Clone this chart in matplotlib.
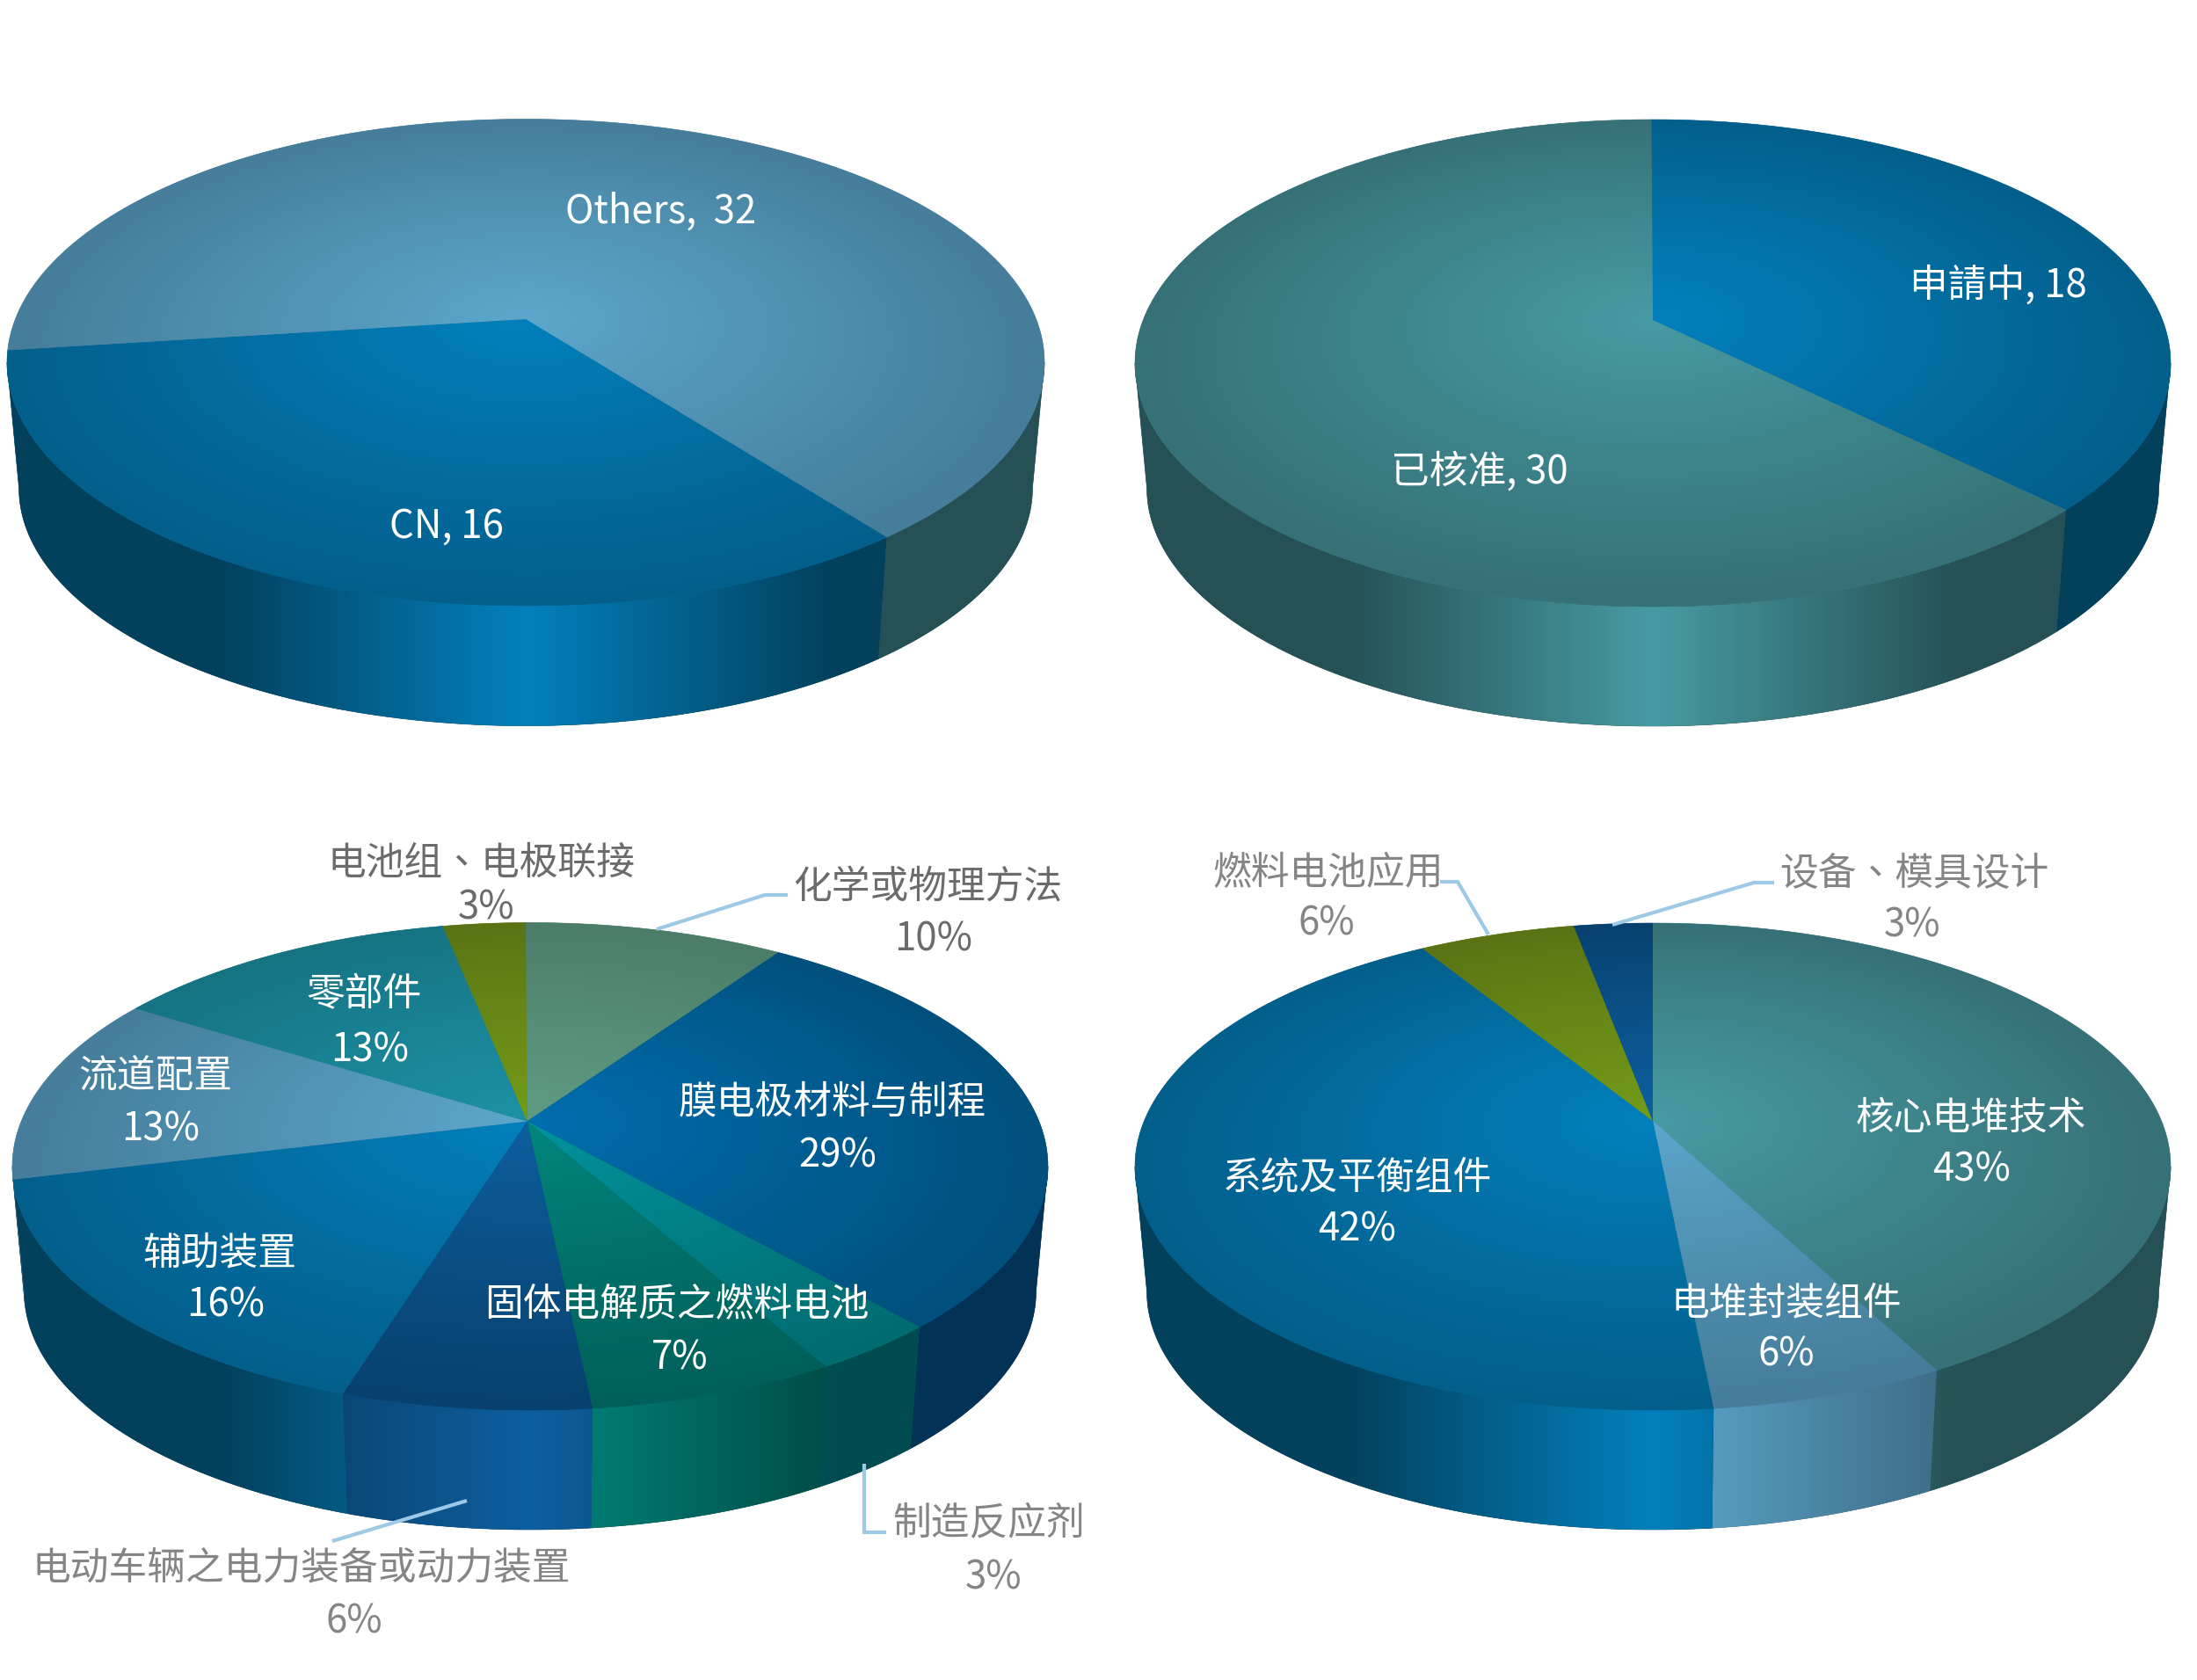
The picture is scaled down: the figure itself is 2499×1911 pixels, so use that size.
import numpy as np
import matplotlib
matplotlib.use('Agg')
import matplotlib.pyplot as plt
from matplotlib.patches import Polygon
from matplotlib.colors import to_rgb

plt.rcParams['font.family'] = ['Noto Sans CJK SC', 'DejaVu Sans']

# ---- data
country_names = ['CN', 'Others']
country_values = [16, 32]
status_names = ['申請中', '已核准']
status_values = [18, 30]
tech_names = ['化学或物理方法', '膜电极材料与制程', '制造反应剂', '固体电解质之燃料电池',
              '电动车辆之电力装备或动力装置', '辅助装置', '流道配置', '零部件', '电池组、电极联接']
tech_values = [9.67, 29.05, 3.35, 6.5, 6.5, 16.3, 12.6, 12.95, 3.08]
tech_labels = ['10%', '29%', '3%', '7%', '6%', '16%', '13%', '13%', '3%']
stack_names = ['核心电堆技术', '电堆封装组件', '系统及平衡组件', '燃料电池应用', '设备、模具设计']
stack_values = [42.3, 6.15, 42.75, 5.85, 2.95]
stack_labels = ['43%', '6%', '42%', '6%', '3%']

# colours: centre of top, rim of top, dark end of side
BLUE = ('#0280BD', '#035F8C', '#02405C')
LIGHT = ('#5CA7CC', '#457D9A', '#3C6982')
TEAL = ('#479BA3', '#367177', '#255055')
GREEN = ('#739B19', '#5A7314', '#3C500F')
NAVY = ('#0D5FA0', '#08416E', '#08375A')
country_colors = [BLUE, ('#5CA7CC', '#457D9A', '#255055')]
status_colors = [BLUE, TEAL]
tech_colors = [('#5F9B82', '#4B7D69', '#375A4B'), ('#006EAF', '#00507D', '#023255'),
               ('#00949E', '#006C70', '#004B50'), ('#00877D', '#005F5A', '#004B46'),
               NAVY, BLUE, LIGHT, ('#1C91A5', '#167382', '#0F505A'), GREEN]
stack_colors = [TEAL, LIGHT, BLUE, GREEN, NAVY]


def rgb(c):
    return np.array(to_rgb(c))


def draw_pie(ax, cx, cy, top, bottom, under, rx, values, colors, start=0, apex_dx=0):
    # perspective disc: far half squeezed, apex sits above the ellipse centre
    up = cy - top
    down = bottom - cy
    k = (down - up) / (down + up)
    b = up * (1 + k)
    a = rx * np.sqrt(1 - k ** 2)
    s = 0.977
    cy2 = under - down * s

    def project(ang):
        x, y = np.sin(ang), np.cos(ang)
        w = 1 + k * y
        return a * x / w, b * y / w

    x0, x1 = int(cx - rx - 2), int(cx + rx + 2)
    y0, y1 = int(top - 2), int(under + 2)
    gx, gy = np.meshgrid(np.arange(x0, x1) + 0.5, np.arange(y0, y1) + 0.5)
    # plane radius for the top gradient
    xp, yp = (gx - cx - apex_dx) / a, (cy - gy) / b
    yy = yp / (1 - k * yp)
    rr = np.hypot(xp * (1 + k * yy), yy)
    tt = np.clip(rr, 0, 1)[..., None]
    # side gradient only depends on x
    ts = np.clip(np.abs(gx - cx) / (0.6 * rx), 0, 1)[..., None]

    edges = np.radians(start + np.cumsum([0] + list(values)) * 360 / sum(values))
    # only the front of the wall shows, between the widest points of the disc
    right = np.arccos(-k)
    left = 2 * np.pi - right

    for i, col in enumerate(colors):
        c_in, c_out, c_dark = [rgb(c) for c in col]
        for turn in (-2 * np.pi, 0, 2 * np.pi):
            a0 = max(edges[i], right + turn)
            a1 = min(edges[i + 1], left + turn)
            if a1 <= a0:
                continue
            ang = np.linspace(a0, a1, 240)
            X, Y = project(ang)
            rim = np.column_stack([cx + X, cy - Y])
            low = np.column_stack([cx + s * X, cy2 - s * Y])[::-1]
            pts = np.vstack([rim, low])
            ax.add_patch(Polygon(pts, closed=True, fc=c_dark, ec=c_dark, lw=0.4, zorder=1))
            im = ax.imshow(c_in + (c_dark - c_in) * ts, extent=(x0, x1, y1, y0), origin='upper',
                           aspect='auto', interpolation='bilinear', zorder=2)
            im.set_clip_path(Polygon(pts, closed=True, transform=ax.transData))

    for i, col in enumerate(colors):
        ang = np.linspace(edges[i], edges[i + 1], 240)
        X, Y = project(ang)
        c_in, c_out, c_dark = [rgb(c) for c in col]

        # top
        pts = np.vstack([[cx + apex_dx, cy], np.column_stack([cx + X, cy - Y])])
        ax.add_patch(Polygon(pts, closed=True, fc=(c_in + c_out) / 2, ec=c_out, lw=0.4, zorder=3))
        im = ax.imshow(c_in + (c_out - c_in) * tt, extent=(x0, x1, y1, y0), origin='upper',
                       aspect='auto', interpolation='bilinear', zorder=4)
        im.set_clip_path(Polygon(pts, closed=True, transform=ax.transData))


fig = plt.figure(figsize=(24.99, 19.11), dpi=100)
ax = fig.add_axes([0, 0, 1, 1])

draw_pie(ax, 598, 363, 135.5, 689, 825.6, 590, country_values, country_colors, start=142.6)
draw_pie(ax, 1880, 364, 136, 690, 826, 589, status_values, status_colors, start=-0.2)
draw_pie(ax, 603, 1275.5, 1049.5, 1604, 1740, 589, tech_values, tech_colors, start=-0.6, apex_dx=-3.5)
draw_pie(ax, 1880, 1275, 1050, 1604, 1740, 589, stack_values, stack_colors)

# leader lines
leader = '#9DC8E6'
for xs, ys in [([747, 870, 896], [1057, 1018, 1018]),
               ([983, 983, 1008], [1665, 1743, 1743]),
               ([531, 378], [1707, 1753]),
               ([1638, 1658, 1693], [1003, 1003, 1063]),
               ([2018, 1995, 1834], [1004, 1004, 1052])]:
    ax.plot(xs, ys, color=leader, lw=3.0, solid_joinstyle='miter', solid_capstyle='butt', zorder=5)

FS = 31.5
WHITE = 'white'
DARK = '#6b6b6b'
GREY = '#858585'
TC = ['Noto Sans CJK TC', 'DejaVu Sans']


def label(x, y, txt, c):
    # the enumeration comma sits mid-height in the original, as in the TC glyph
    fam = TC if '、' in txt else plt.rcParams['font.family']
    ax.text(x, y + 3, txt, color=c, fontsize=FS, ha='center', va='center', zorder=6, family=fam)


# two charts on top: one-line labels
country_pos = [(508, 596), (752, 238)]
for name, val, (x, y) in zip(country_names, country_values, country_pos):
    sep = ', ' if name == 'CN' else ',  '
    label(x, y, f'{name}{sep}{val}', WHITE)
status_pos = [(2273, 322), (1683, 534)]
for name, val, (x, y) in zip(status_names, status_values, status_pos):
    label(x, y, f'{name}, {val}', WHITE)

# bottom charts: name on one line, share on next
tech_pos = [((1055, 1006), (1062, 1065), DARK), ((947, 1251), (953, 1312), WHITE),
            ((1125, 1729), (1130, 1791), GREY), ((770, 1481), (773, 1542), WHITE),
            ((343, 1780), (403, 1841), GREY), ((250, 1422), (257, 1482), WHITE),
            ((177, 1221), (183, 1281), WHITE), ((414, 1128), (421, 1191), WHITE),
            ((548, 979), (553, 1030), DARK)]
for name, lab, (p1, p2, c) in zip(tech_names, tech_labels, tech_pos):
    label(p1[0], p1[1], name, c)
    label(p2[0], p2[1], lab, c)

stack_pos = [((2242, 1269), (2243, 1328), WHITE), ((2032, 1479), (2032, 1538), WHITE),
             ((1544, 1336), (1544, 1395), WHITE), ((1511, 990), (1509, 1047), GREY),
             ((2177, 991), (2175, 1049), GREY)]
for name, lab, (p1, p2, c) in zip(stack_names, stack_labels, stack_pos):
    label(p1[0], p1[1], name, c)
    label(p2[0], p2[1], lab, c)

ax.set_xlim(0, 2499)
ax.set_ylim(1911, 0)
ax.axis('off')
fig.savefig('out.png', dpi=100)
